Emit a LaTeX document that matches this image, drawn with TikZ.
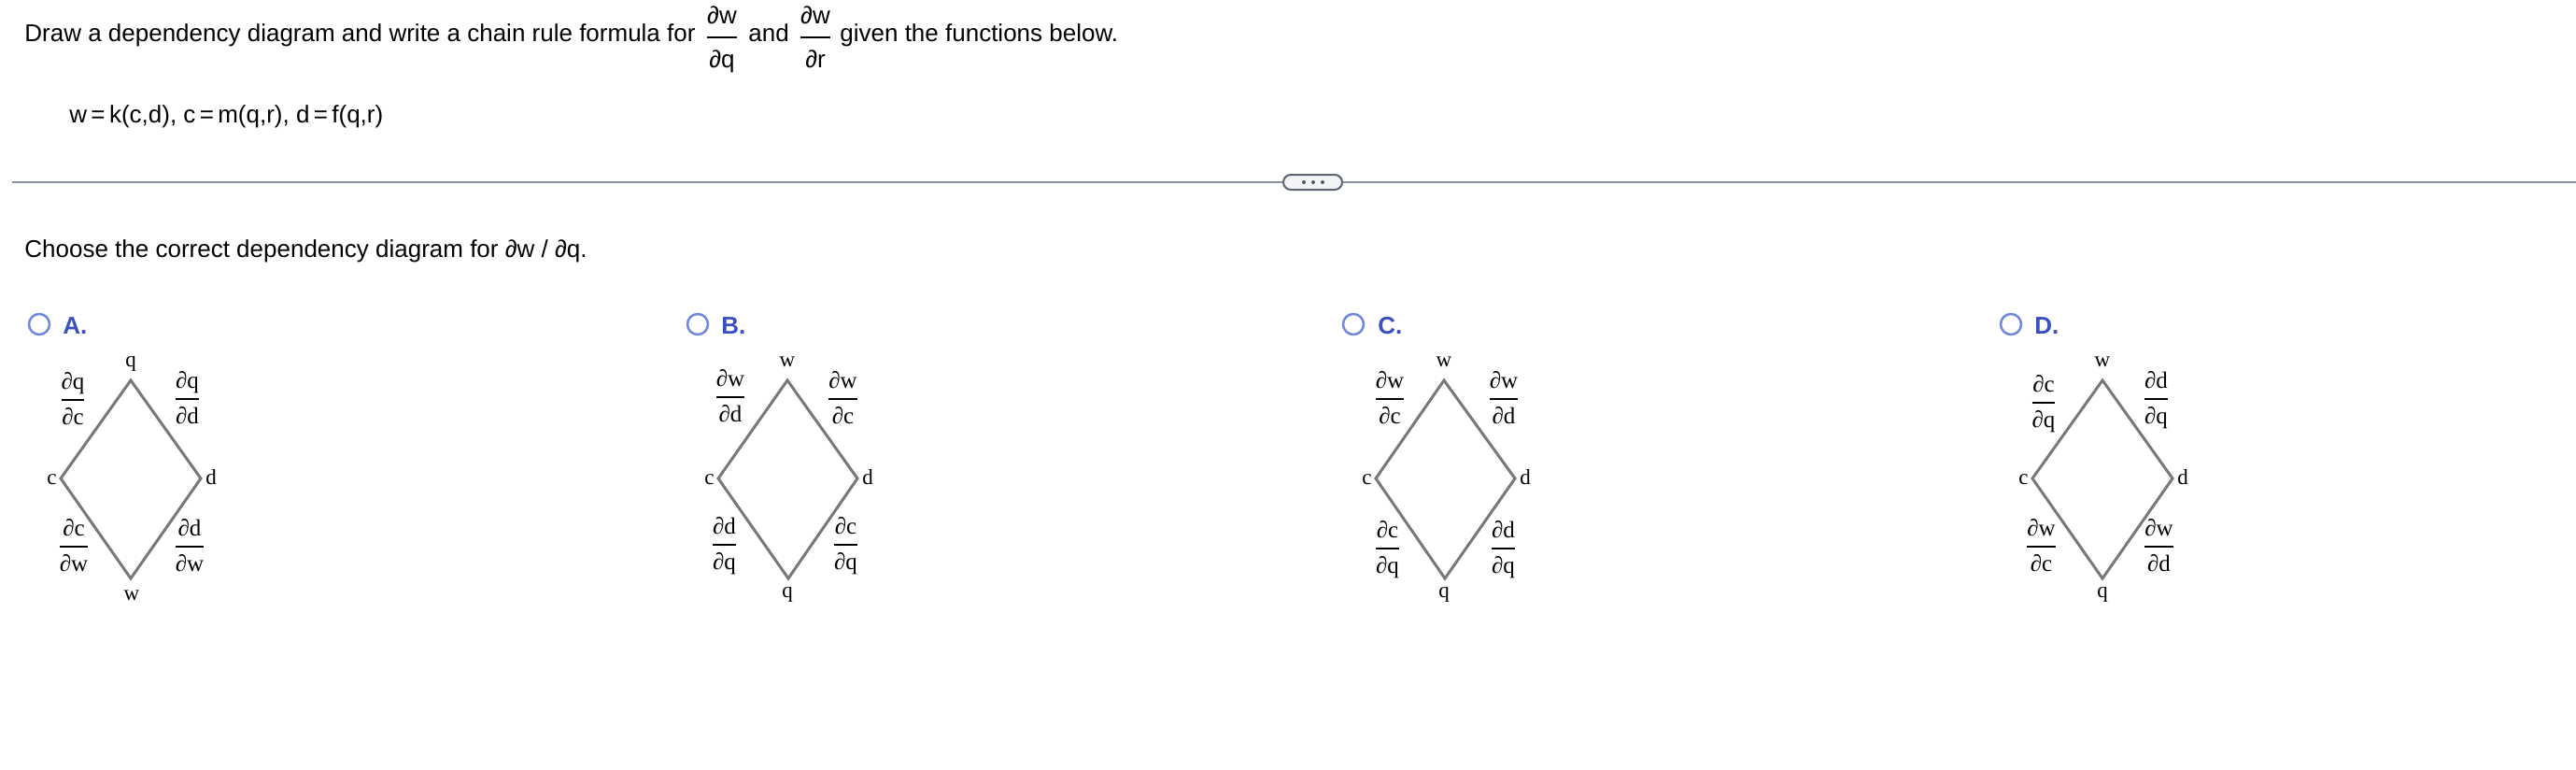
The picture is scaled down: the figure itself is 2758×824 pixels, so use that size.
\documentclass[tikz,border=0pt]{standalone}
\usepackage{fontspec}
\setmainfont{Liberation Serif}
\newfontfamily\uisans{Liberation Sans}
\usepackage{tikz}

% stacked partial fraction with a bar
\newcommand{\pfrac}[3][1.2]{{\renewcommand{\arraystretch}{#1}\setlength{\arrayrulewidth}{1pt}\begin{tabular}{@{}c@{}}#2\\\hline #3\end{tabular}}}

\tikzset{
  hdr/.style={font=\uisans\fontsize{13}{15.6}\selectfont, inner sep=0pt},
  vlbl/.style={font=\fontsize{11.5}{14}\selectfont, inner sep=0pt},
  frac/.style={font=\fontsize{12.5}{15}\selectfont, inner sep=0pt},
  edge/.style={color={rgb, 255:red, 120; green, 120; blue, 120 }, line width=1.5pt},
  rule/.style={color={rgb, 255:red, 138; green, 145; blue, 160 }, line width=1pt},
  pill/.style={draw={rgb, 255:red, 92; green, 100; blue, 112 }, fill={rgb, 255:red, 243; green, 244; blue, 246 }, line width=1pt, rounded corners=4pt, minimum width=31.5pt, minimum height=8pt, inner sep=0pt},
  radio/.style={circle, draw={rgb, 255:red, 112; green, 136; blue, 220 }, line width=1.25pt, minimum size=11pt, inner sep=0pt},
  optlbl/.style={font=\uisans\bfseries\fontsize{13}{15.6}\selectfont, text={rgb, 255:red, 58; green, 80; blue, 192 }, inner sep=0pt}
}

\begin{document}
\begin{tikzpicture}[x=0.5pt,y=0.5pt,yscale=-1]
\useasboundingbox (0,0) rectangle (2758,824);

% Text Node
\node[hdr, anchor=base west] (prompt) at (26,45) {Draw a dependency diagram and write a chain rule formula for};
\node[hdr] (dwdq) at (773,40) {\pfrac[1.45]{∂w}{∂q}};
\node[hdr, anchor=base west] (and) at (801,45) {and};
\node[hdr] (dwdr) at (873,40) {\pfrac[1.45]{∂w}{∂r}};
\node[hdr, anchor=base west] (given) at (899,45) {given the functions below.};
% Text Node
\node[hdr, anchor=base west] (funcs) at (74,132) {w\,=\,k(c,d), c\,=\,m(q,r), d\,=\,f(q,r)};

%Straight Lines
\node[pill] (more) at (1405.5,195) {};
\draw[rule] (13,195) -- (more.west);
\draw[rule] (more.east) -- (2758,195);
\fill[color={rgb, 255:red, 80; green, 86; blue, 96 }] (1396,195) circle (1pt);
\fill[color={rgb, 255:red, 80; green, 86; blue, 96 }] (1406,195) circle (1pt);
\fill[color={rgb, 255:red, 80; green, 86; blue, 96 }] (1416,195) circle (1pt);

% Text Node
\node[hdr, anchor=base west] (choose) at (26,275) {Choose the correct dependency diagram for ∂w / ∂q.};

%Option A
\node[radio] (aRadio) at (42,347) {};
\node[optlbl, anchor=base west] (aOpt) at (67,357) {A.};
\coordinate (aT) at (140,407);
\coordinate (aR) at (215,512);
\coordinate (aB) at (140,619);
\coordinate (aL) at (65,512);
\draw[edge] (aT) -- (aR) -- (aB) -- (aL) -- cycle;
\node[vlbl, anchor=base] (aTop) at (140,392) {q};
\node[vlbl, anchor=base east] (aLeft) at (61,518) {c};
\node[vlbl, anchor=base west] (aRight) at (220,518) {d};
\node[vlbl, anchor=base] (aBot) at (141,642) {w};
\node[frac] (aTL) at (78,428) {\pfrac{∂q}{∂c}};
\node[frac] (aTR) at (200.5,427) {\pfrac{∂q}{∂d}};
\node[frac] (aBL) at (79,585) {\pfrac{∂c}{∂w}};
\node[frac] (aBR) at (203,585) {\pfrac{∂d}{∂w}};

%Option B
\node[radio] (bRadio) at (747,347) {};
\node[optlbl, anchor=base west] (bOpt) at (772,357) {B.};
\coordinate (bT) at (843,407);
\coordinate (bR) at (918,512);
\coordinate (bB) at (844,619);
\coordinate (bL) at (769,512);
\draw[edge] (bT) -- (bR) -- (bB) -- (bL) -- cycle;
\node[vlbl, anchor=base] (bTop) at (843,392) {w};
\node[vlbl, anchor=base east] (bLeft) at (765,518) {c};
\node[vlbl, anchor=base west] (bRight) at (923,518) {d};
\node[vlbl, anchor=base] (bBot) at (843,639) {q};
\node[frac] (bTL) at (782,425) {\pfrac{∂w}{∂d}};
\node[frac] (bTR) at (902.5,427) {\pfrac{∂w}{∂c}};
\node[frac] (bBL) at (775.5,583) {\pfrac{∂d}{∂q}};
\node[frac] (bBR) at (905.5,583) {\pfrac{∂c}{∂q}};

%Option C
\node[radio] (cRadio) at (1449,347) {};
\node[optlbl, anchor=base west] (cOpt) at (1475,357) {C.};
\coordinate (cT) at (1546,407);
\coordinate (cR) at (1622,512);
\coordinate (cB) at (1547,619);
\coordinate (cL) at (1473,512);
\draw[edge] (cT) -- (cR) -- (cB) -- (cL) -- cycle;
\node[vlbl, anchor=base] (cTop) at (1546,392) {w};
\node[vlbl, anchor=base east] (cLeft) at (1469,518) {c};
\node[vlbl, anchor=base west] (cRight) at (1627,518) {d};
\node[vlbl, anchor=base] (cBot) at (1546,639) {q};
\node[frac] (cTL) at (1488,427) {\pfrac{∂w}{∂c}};
\node[frac] (cTR) at (1610,427) {\pfrac{∂w}{∂d}};
\node[frac] (cBL) at (1485.5,587) {\pfrac{∂c}{∂q}};
\node[frac] (cBR) at (1609.5,587) {\pfrac{∂d}{∂q}};

%Option D
\node[radio] (dRadio) at (2153,347) {};
\node[optlbl, anchor=base west] (dOpt) at (2178,357) {D.};
\coordinate (dT) at (2251,407);
\coordinate (dR) at (2326,512);
\coordinate (dB) at (2251,619);
\coordinate (dL) at (2176,512);
\draw[edge] (dT) -- (dR) -- (dB) -- (dL) -- cycle;
\node[vlbl, anchor=base] (dTop) at (2251,392) {w};
\node[vlbl, anchor=base east] (dLeft) at (2172,518) {c};
\node[vlbl, anchor=base west] (dRight) at (2331,518) {d};
\node[vlbl, anchor=base] (dBot) at (2251,639) {q};
\node[frac] (dTL) at (2188,431) {\pfrac{∂c}{∂q}};
\node[frac] (dTR) at (2308.5,427) {\pfrac{∂d}{∂q}};
\node[frac] (dBL) at (2185.5,585) {\pfrac{∂w}{∂c}};
\node[frac] (dBR) at (2311.5,585) {\pfrac{∂w}{∂d}};

\end{tikzpicture}
\end{document}
